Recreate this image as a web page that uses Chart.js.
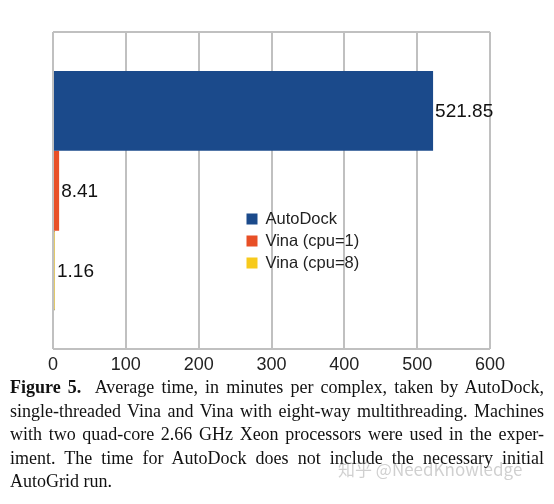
<!DOCTYPE html>
<html>
<head>
<meta charset="utf-8">
<script src="https://cdn.jsdelivr.net/npm/chart.js@4.4.0/dist/chart.umd.min.js"></script>
<style>
  html, body { margin: 0; padding: 0; background: #fff; }
  #wrap { position: relative; width: 554px; height: 504px; overflow: hidden; }
  #box { position: absolute; left: 0; top: 0; width: 554px; height: 386px; }
  #caption {
    position: absolute; left: 10px; top: 376px; width: 534px;
    font-family: "Liberation Serif", "DejaVu Serif", serif;
    font-size: 18px; line-height: 23.5px; color: #111;
  }
  #caption .ln { text-align: justify; text-align-last: justify; white-space: nowrap; }
  #caption .last { text-align: left; text-align-last: left; }
  #mark {
    position: absolute; left: 338px; top: 456px;
    font-family: "Noto Sans CJK SC", "Noto Sans", sans-serif;
    font-size: 17px; color: rgba(150,150,150,0.45);
  }
</style>
</head>
<body>
<div id="wrap">
  <div id="box"><canvas id="myChart"></canvas></div>
  <div id="caption">
    <div class="ln"><b>Figure 5.</b>&nbsp; Average time, in minutes per complex, taken by AutoDock,</div>
    <div class="ln">single-threaded Vina and Vina with eight-way multithreading. Machines</div>
    <div class="ln">with two quad-core 2.66 GHz Xeon processors were used in the exper-</div>
    <div class="ln">iment. The time for AutoDock does not include the necessary initial</div>
    <div class="ln last">AutoGrid run.</div>
  </div>
  <div id="mark">知乎 @NeedKnowledge</div>
</div>
<script>
const categories = [''];
const seriesNames = ['AutoDock', 'Vina (cpu=1)', 'Vina (cpu=8)'];
const autoDock = [521.85];
const vinaCpu1 = [8.41];
const vinaCpu8 = [1.16];
const xTicks = [0, 100, 200, 300, 400, 500, 600];

const colors = ['#1b4a8b', '#e84f26', '#f7ca1c'];
const gridColor = '#c0c0c0';

// value labels right of each bar
const valueLabels = {
  id: 'valueLabels',
  afterDatasetsDraw(chart) {
    const ctx = chart.ctx;
    ctx.save();
    ctx.font = '19px "Liberation Sans", Arial, sans-serif';
    ctx.fillStyle = '#111';
    ctx.textBaseline = 'middle';
    ctx.textAlign = 'left';
    chart.data.datasets.forEach((ds, i) => {
      chart.getDatasetMeta(i).data.forEach((bar, j) => {
        ctx.fillText(ds.data[j].toFixed(2), bar.x + 2, bar.y + 1);
      });
    });
    ctx.restore();
  }
};

// legend drawn inside the plot area
const innerLegend = {
  id: 'innerLegend',
  afterDraw(chart) {
    const ctx = chart.ctx;
    const a = chart.chartArea;
    const left = a.left + 193.5;
    let y = a.top + 187;
    ctx.save();
    ctx.font = '16.5px "Liberation Sans", Arial, sans-serif';
    ctx.textBaseline = 'middle';
    chart.data.datasets.forEach((ds) => {
      ctx.fillStyle = ds.backgroundColor;
      ctx.fillRect(left, y - 5.5, 11, 11);
      ctx.fillStyle = '#222';
      ctx.fillText(ds.label, left + 19, y + 0.5);
      y += 22;
    });
    ctx.restore();
  }
};

const data = {
  labels: categories,
  datasets: [
    { label: seriesNames[0], data: autoDock, backgroundColor: colors[0] },
    { label: seriesNames[1], data: vinaCpu1, backgroundColor: colors[1] },
    { label: seriesNames[2], data: vinaCpu8, backgroundColor: colors[2],
      borderColor: '#9a9272', borderWidth: 1, minBarLength: 2 }
  ]
};

const config = {
  type: 'bar',
  data: data,
  plugins: [valueLabels, innerLegend],
  options: {
    responsive: true,
    maintainAspectRatio: false,
    animation: false,
    indexAxis: 'y',
    datasets: {
      bar: { categoryPercentage: 0.755, barPercentage: 1.0 }
    },
    layout: { padding: { left: 53, right: 64, top: 32, bottom: 5 } },
    plugins: {
      legend: { display: false },
      tooltip: { enabled: false }
    },
    scales: {
      x: {
        min: 0,
        max: 600,
        afterBuildTicks: (scale) => { scale.ticks = xTicks.map(v => ({ value: v })); },
        grid: { color: gridColor, lineWidth: 2, drawTicks: false },
        border: { display: false },
        ticks: {
          padding: 5,
          color: '#222',
          font: { family: '"Liberation Sans", Arial, sans-serif', size: 18 }
        }
      },
      y: {
        offset: true,
        grid: { color: gridColor, lineWidth: 2, offset: true, drawTicks: false },
        border: { display: false },
        ticks: { display: false }
      }
    }
  }
};

var myChart = new Chart(document.getElementById('myChart'), config);
</script>
</body>
</html>
